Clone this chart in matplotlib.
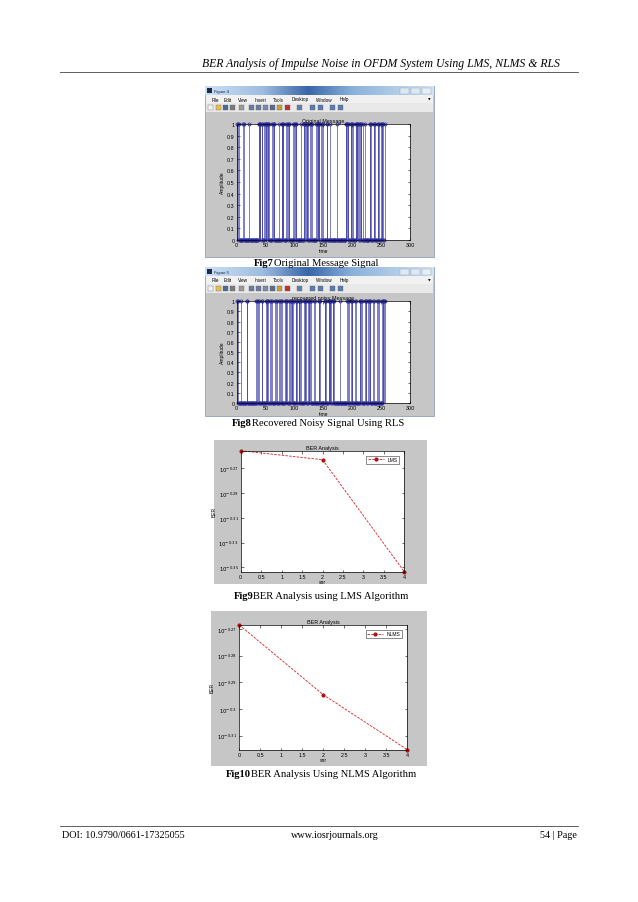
import numpy as np
import matplotlib
matplotlib.use('Agg')
import matplotlib.pyplot as plt
from matplotlib.patches import Rectangle
from matplotlib.ticker import NullLocator, NullFormatter

W, H = 638, 903

# bits (sample 1..256)
orig_bits = ("1101" "000000" "11" "00000000" "1" "0000000000000000"
             "1111011" "000" "111101111" "0000" "11011" "00000000" "1" "000"
             "1111" "0000" "111011" "000000" "110111" "0000000" "1"
             "0000" "11101111" "000" "1101" "0000000" "111111" "00" "1011"
             "000000" "11" "000"
             "1" "00000000000" "1" "000000000000000" "1"
             "1111" "000" "11011" "0000" "111111" "00" "11101" "000" "1"
             "0000000" "1101" "000" "111"
             "0000" "1101" "00" "1111" "00" "1")
recov_bits = ("11" "00000" "1" "00000000" "11" "000000000000000"
              "11011" "0000" "11" "000000" "1111" "000" "1101" "00000" "111"
              "0000" "11101" "00000" "1111" "000"
              "1101111" "0000" "111" "00" "11011" "00000" "1111" "000" "11111"
              "0000" "101" "000000" "111"
              "0000000" "1101" "000" "11111" "00" "111" "0000000000" "1"
              "00000000000"
              "1101" "000" "111" "0000" "11" "000000" "11101" "0000" "111" "000"
              "1111" "0000" "11" "00000" "1101" "00" "000" "1111" "1")
assert len(orig_bits) == 256 and len(recov_bits) == 256

snr = [0, 2, 4]
lms_ber = [0.5548, 0.5456, 0.4431]
nlms_ber = [0.5389, 0.5074, 0.4839]

lms_exp = [-0.35, -0.33, -0.31, -0.29, -0.27]
lms_lbl = ['-0.35', '-0.33', '-0.31', '-0.29', '-0.27']
nlms_exp = [-0.31, -0.3, -0.29, -0.28, -0.27]
nlms_lbl = ['-0.31', '-0.3', '-0.29', '-0.28', '-0.27']

amp_ticks = [0, 0.1, 0.2, 0.3, 0.4, 0.5, 0.6, 0.7, 0.8, 0.9, 1]
amp_lbl = ['0', '0.1', '0.2', '0.3', '0.4', '0.5', '0.6', '0.7', '0.8', '0.9', '1']
time_ticks = [0, 50, 100, 150, 200, 250, 300]
snr_ticks = [0, 0.5, 1, 1.5, 2, 2.5, 3, 3.5, 4]
snr_lbl = ['0', '0.5', '1', '1.5', '2', '2.5', '3', '3.5', '4']

menu = ['File', 'Edit', 'View', 'Insert', 'Tools', 'Desktop', 'Window', 'Help']
menu_x = [7, 19, 33, 50, 68, 87, 111, 135]

SERIF = 'Liberation Serif'
SANS = 'Liberation Sans'
BLUE = '#2a2aa0'
GRAY = '#c6c6c6'

fig = plt.figure(figsize=(W / 100, H / 100), dpi=100)
fig.patch.set_facecolor('white')
page = fig.add_axes([0, 0, 1, 1])
page.set_xlim(0, W)
page.set_ylim(H, 0)
page.axis('off')


def frac(x0, y0, x1, y1):
    return [x0 / W, 1 - y1 / H, (x1 - x0) / W, (y1 - y0) / H]


def caption(cx, y, bold, rest):
    r = fig.canvas.get_renderer()
    t1 = page.text(0, y, bold, fontsize=7.6, family=SERIF, weight='bold', va='center')
    t2 = page.text(0, y, rest, fontsize=7.6, family=SERIF, va='center')
    w1 = t1.get_window_extent(r).width
    w2 = t2.get_window_extent(r).width
    x0 = cx - (w1 + w2) / 2
    t1.set_x(x0)
    t2.set_x(x0 + w1)


def style_axes(ax):
    ax.tick_params(direction='in', length=1.8, width=0.4, labelsize=3.9,
                   top=True, right=True, pad=1.5)
    for s in ax.spines.values():
        s.set_linewidth(0.5)
    for lab in ax.get_xticklabels() + ax.get_yticklabels():
        lab.set_family(SANS)


def matlab_window(x0, y0, x1, y1, name):
    page.add_patch(Rectangle((x0, y0), x1 - x0, y1 - y0, fc=GRAY, ec='#8fa3bb', lw=0.6))
    # title bar
    stops = np.array([[0.0, 0.80, 0.88, 0.96], [0.25, 0.62, 0.74, 0.88],
                      [0.45, 0.22, 0.40, 0.66], [0.65, 0.55, 0.70, 0.86],
                      [1.0, 0.82, 0.89, 0.96]])
    xs = np.linspace(0, 1, 200)
    grad = np.stack([np.interp(xs, stops[:, 0], stops[:, k]) for k in (1, 2, 3)], axis=-1)
    page.imshow(grad[None, :, :], extent=(x0, x1, y0 + 9, y0), aspect='auto', zorder=1)
    page.add_patch(Rectangle((x0 + 2, y0 + 2), 5, 5, fc='#1e2a44', ec='none', zorder=2))
    page.text(x0 + 9, y0 + 4.8, name, fontsize=3, family=SANS, va='center', color='#102040', zorder=2)
    for i, c in enumerate(['#dfe8f2', '#dfe8f2', '#e8eef5']):
        page.add_patch(Rectangle((x1 - 34 + i * 11, y0 + 1.5), 9, 6, fc=c, ec='#8fa3bb',
                                 lw=0.3, zorder=2))
    # menu bar
    page.add_patch(Rectangle((x0 + 1, y0 + 9), x1 - x0 - 2, 8, fc='#f1f1f1', ec='none', zorder=1))
    for m, mx in zip(menu, menu_x):
        page.text(x0 + mx, y0 + 13, m, fontsize=3.3, family=SANS, va='center', zorder=2)
    page.text(x1 - 6, y0 + 13, u'\u25BC', fontsize=2.5, family='DejaVu Sans', va='center', zorder=2)
    # toolbar
    page.add_patch(Rectangle((x0 + 1, y0 + 17), x1 - x0 - 2, 9, fc='#e9e9e9', ec='none', zorder=1))
    icons = ['#f4f4f4', '#e8c050', '#4a6a9a', '#7a7a7a', '#9a9a9a', '#6a7aa0',
             '#6a7aa0', '#7a8ab0', '#5a6a8a', '#c8a030', '#c03030', '#6080b0',
             '#5a7ab0', '#5a7ab0', '#5a7ab0', '#5a7ab0']
    ix = [3, 11, 18, 25, 34, 44, 51, 58, 65, 72, 80, 92, 105, 113, 125, 133]
    for c, dx in zip(icons, ix):
        page.add_patch(Rectangle((x0 + dx, y0 + 18.5), 5, 5, fc=c, ec='#606060', lw=0.25, zorder=2))


def stem_axes(box, bits, title):
    ax = fig.add_axes(frac(*box))
    vals = [int(b) for b in bits]
    n = list(range(1, len(vals) + 1))
    markerline, stemlines, baseline = ax.stem(n, vals, linefmt='-', markerfmt='o', basefmt=' ')
    plt.setp(stemlines, color=BLUE, linewidth=0.6, alpha=0.7)
    plt.setp(markerline, color=BLUE, markersize=2.2, markerfacecolor='none', markeredgewidth=0.55)
    markerline.set_clip_on(False)
    ax.set_xlim(0, 300)
    ax.set_ylim(0, 1)
    ax.set_xticks(time_ticks)
    ax.set_yticks(amp_ticks)
    ax.set_yticklabels(amp_lbl)
    ax.set_title(title, fontsize=3.9, family=SANS, pad=1.5)
    ax.set_xlabel('time', fontsize=3.6, family=SANS, labelpad=0.5)
    ax.set_ylabel('Amplitude', fontsize=3.6, family=SANS, labelpad=1.5)
    style_axes(ax)
    return ax


def ber_axes(box, ber, exps, lbls, name):
    ax = fig.add_axes(frac(*box))
    ax.semilogy(snr, ber, color='#d42020', linewidth=0.6, dashes=(3, 1.5), marker='o',
                markersize=2.0, markerfacecolor='#b01010', markeredgecolor='#b01010',
                label=name, clip_on=False)
    ax.set_xlim(0, 4)
    ax.set_ylim(min(ber), max(ber))
    ax.yaxis.set_minor_locator(NullLocator())
    ax.yaxis.set_minor_formatter(NullFormatter())
    ax.set_yticks([10 ** e for e in exps])
    ax.set_yticklabels([r'$10^{%s}$' % s for s in lbls])
    ax.set_xticks(snr_ticks)
    ax.set_xticklabels(snr_lbl)
    ax.set_title('BER Analysis', fontsize=3.9, family=SANS, pad=1.5)
    ax.set_xlabel('snr', fontsize=3.6, family=SANS, labelpad=0.5)
    ax.set_ylabel('BER', fontsize=3.6, family=SANS, labelpad=1.5)
    leg = ax.legend(loc='upper right', fontsize=3.6, frameon=True, fancybox=False,
                    edgecolor='black', borderpad=0.3, handlelength=3.2,
                    borderaxespad=1.0, prop={'family': SANS, 'size': 3.6})
    leg.get_frame().set_linewidth(0.4)
    style_axes(ax)
    return ax


# page header / footer
page.text(560, 64, 'BER Analysis of Impulse Noise in OFDM System Using LMS, NLMS & RLS',
          fontsize=8.5, family=SERIF, style='italic', ha='right', va='center')
page.plot([60, 578], [73, 73], color='#444444', lw=0.6)
page.plot([60, 578], [827, 827], color='#444444', lw=0.6)
page.text(62, 836, 'DOI: 10.9790/0661-17325055', fontsize=7.3, family=SERIF, va='center')
page.text(335, 836, 'www.iosrjournals.org', fontsize=7.3, family=SERIF, va='center', ha='center')
page.text(577, 836, '54 | Page', fontsize=7.3, family=SERIF, va='center', ha='right')

# Fig 7 and Fig 8 - MATLAB windows with stem plots
matlab_window(205, 87, 434, 258, 'Figure 4')
stem_axes((236.7, 125, 410, 241), orig_bits, 'Original Message')
caption(316, 264, 'Fig7', 'Original Message Signal')

matlab_window(205, 268, 434, 417, 'Figure 5')
stem_axes((236.7, 302.3, 410, 404), recov_bits, 'recovered noisy Message')
caption(318, 424, 'Fig8', 'Recovered Noisy Signal Using RLS')

# Fig 9 and Fig 10 - BER curves
page.add_patch(Rectangle((214, 441), 213, 144, fc=GRAY, ec='none'))
ber_axes((240.7, 451.7, 404.3, 572.7), lms_ber, lms_exp, lms_lbl, 'LMS')
caption(321, 597, 'Fig9', 'BER Analysis using LMS Algorithm')

page.add_patch(Rectangle((211, 612), 216, 155, fc=GRAY, ec='none'))
ber_axes((239.3, 626, 407.3, 750.7), nlms_ber, nlms_exp, nlms_lbl, 'NLMS')
caption(321, 775, 'Fig10', 'BER Analysis Using NLMS Algorithm')

page.set_xlim(0, W)
page.set_ylim(H, 0)
fig.savefig('out.png', dpi=100)
